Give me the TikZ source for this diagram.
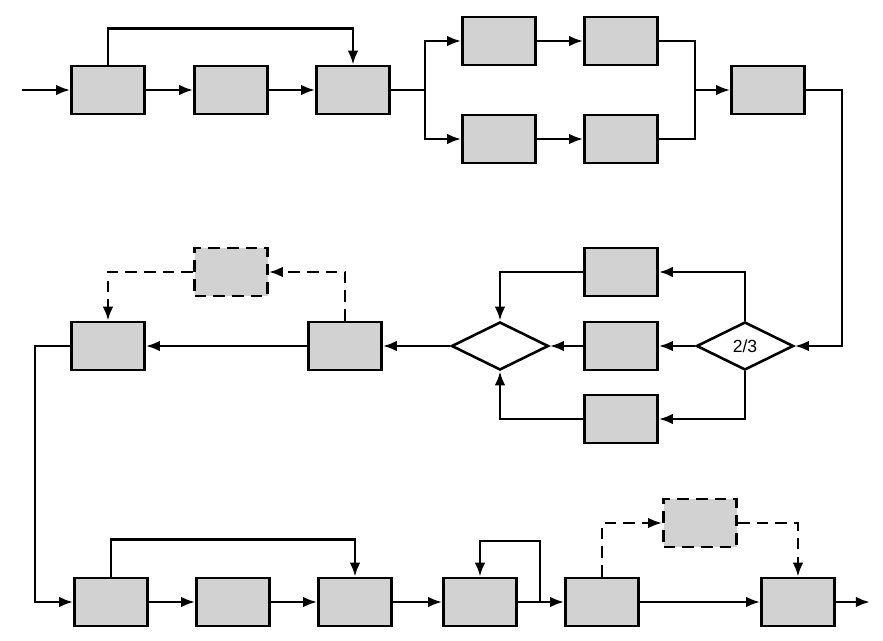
\documentclass[tikz,border=0pt]{standalone}
\usepackage{fontspec}
\setmainfont{Liberation Sans}
\usetikzlibrary{shapes.geometric,arrows.meta}
\begin{document}
\begin{tikzpicture}[x=0.03cm,y=-0.03cm,line width=2.2pt,
  bx/.style={draw,fill=gray!35,minimum width=73*0.03cm,minimum height=48*0.03cm,inner sep=0pt},
  dbx/.style={bx,dash pattern=on 10pt off 6pt},
  dm/.style={draw,fill=white,diamond,aspect=2,minimum width=97*0.03cm,minimum height=48*0.03cm,inner sep=0pt,font=\fontsize{15}{15}\selectfont},
  a/.style={-{Latex[length=12pt,width=9pt]}},
  da/.style={a,dash pattern=on 10pt off 6pt}]
\useasboundingbox (0,0) rectangle (883,641);
\node[bx] (A) at (108,90) {};
\node[bx] (B) at (231,90) {};
\node[bx] (C) at (353,90) {};
\node[bx] (D1) at (499,41) {};
\node[bx] (D2) at (499,139) {};
\node[bx] (E1) at (621,41) {};
\node[bx] (E2) at (621,139) {};
\node[bx] (F) at (768,90) {};
\node[dm] (X) at (745,346) {2/3};
\node[bx] (G1) at (621,272) {};
\node[bx] (G2) at (621,346) {};
\node[bx] (G3) at (621,419) {};
\node[dm] (Y) at (500,346) {};
\node[bx] (H) at (345,346) {};
\node[dbx] (J) at (231,272) {};
\node[bx] (I) at (108,346) {};
\node[bx] (K) at (111,602) {};
\node[bx] (L) at (233,602) {};
\node[bx] (M) at (355,602) {};
\node[bx] (N) at (480,602) {};
\node[bx] (O) at (602,602) {};
\node[dbx] (Q) at (700,523) {};
\node[bx] (P) at (798,602) {};
\coordinate (in) at (22,90);
\coordinate (out) at (870,602);
\draw[a] (in) -- (A);
\draw[a] (A) -- (B);
\draw[a] (B) -- (C);
\draw[a] (A.north) -- ++(0,-36) -| (C.north);
\draw (C.east) -- (425,90) coordinate (s);
\draw[a] (s) |- (D1.west);
\draw[a] (s) |- (D2.west);
\draw[a] (D1) -- (E1);
\draw[a] (D2) -- (E2);
\draw (E1.east) -| (695,90) coordinate (j);
\draw (E2.east) -| (j);
\draw[a] (j) -- (F.west);
\draw[a] (F.east) -| (842,346) -- (X.east);
\draw[a] (X.west) -- (G2.east);
\draw[a] (X.north) |- (G1.east);
\draw[a] (X.south) |- (G3.east);
\draw[a] (G2.west) -- (Y.east);
\draw[a] (G1.west) -| (Y.north);
\draw[a] (G3.west) -| (Y.south);
\draw[a] (Y.west) -- (H.east);
\draw[a] (H.west) -- (I.east);
\draw[da] (H.north) |- (J.east);
\draw[da] (J.west) -| (I.north);
\draw[a] (I.west) -- (35,346) |- (K.west);
\draw[a] (K) -- (L);
\draw[a] (L) -- (M);
\draw[a] (K.north) -- ++(0,-37) -| (M.north);
\draw[a] (M) -- (N);
\draw[a] (N) -- (O);
\draw[a] (540,602) |- (480,541) -- (N.north);
\draw[da] (O.north) |- (Q.west);
\draw[da] (Q.east) -| (P.north);
\draw[a] (O) -- (P);
\draw[a] (P.east) -- (out);
\end{tikzpicture}
\end{document}
